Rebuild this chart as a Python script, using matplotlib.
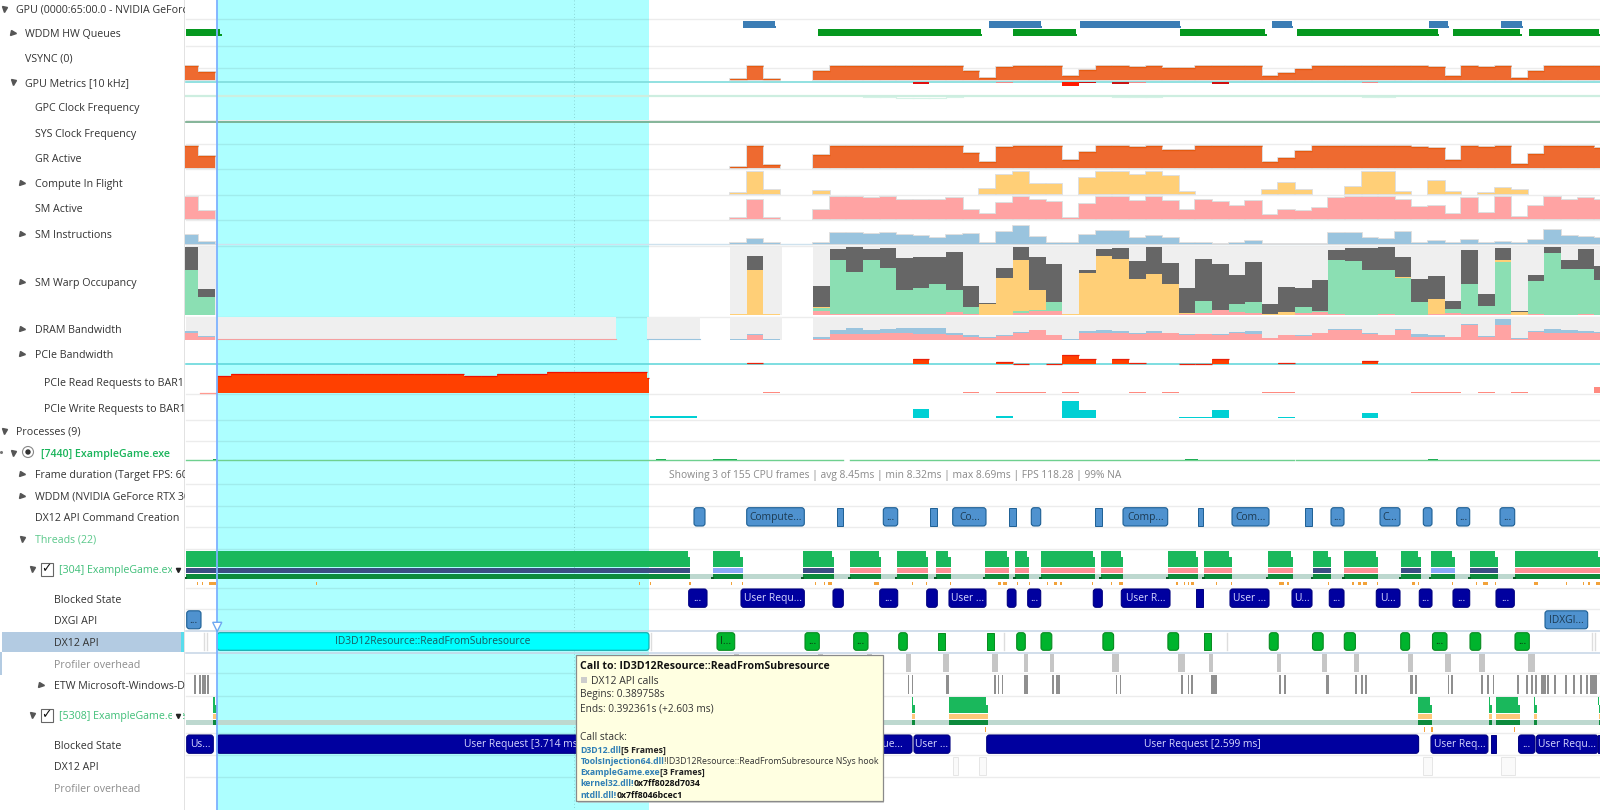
import numpy as np
import matplotlib
matplotlib.use('Agg')
from matplotlib import pyplot as plt
from matplotlib.patches import FancyBboxPatch, Rectangle, Circle, Polygon

plt.rcParams['font.family'] = ['Open Sans', 'DejaVu Sans']

# metric bins on the right of the selection, 53 samples, fraction of row height
gr_active = [.03,1,.12,0,0,.58,1,1,1,1,1,1,1,1,.69,.27,.95,1,1,1,.35,.72,1,1,.97,1,.8,.8,1,1,1,1,.27,.47,.77,1,1,1,1,1,1,.97,.9,.35,1,.97,1,.17,.65,1,1,1,.9]
gr_summary = [.05,1,.1,0,0,.6,1,1,1,1,1,1,1,1,.65,.15,.9,1,1,1,.25,.7,1,1,.9,1,.85,.85,1,1,1,1,.25,.45,.75,1,1,1,1,1,1,.95,.9,.25,1,.9,1,.15,.65,1,1,1,.95]
compute = [.03,1,.16,0,0,.12,0,0,0,0,0,0,0,0,0,.2,.83,1,.45,.45,0,.7,1,1,.85,1,.8,.1,0,0,0,0,.15,.5,.18,0,0,.3,1,1,.08,0,.6,.1,0,.05,.25,.15,0,0,0,0,0]
sm_active = [.03,.87,.03,0,0,.4,1,1,.97,1,.85,.85,.85,.95,.4,.2,.72,1,.85,.75,.03,.68,1,1,.8,1,.8,.4,.85,.75,.6,.8,.15,.4,.37,.5,.95,1,1,1,.85,.53,.58,.2,.95,.27,1,.07,.58,1,.85,.95,.85]
sm_instr = [.05,.25,.05,0,0,.05,.57,.57,.52,.55,.45,.4,.3,.45,.5,.02,.65,.95,.35,.05,.02,.45,.7,.66,.3,.41,.3,.02,.05,.01,.05,.14,.01,.01,.01,.01,.59,.59,.3,.25,.61,.05,.14,.02,.2,.02,.09,.02,.2,.71,.41,.36,.3]

# warp occupancy stack, bottom to top
warp_pink = [0,0,0,0,0,.05,.01,.01,.01,.01,.01,.01,.01,.04,.01,0,0,.03,.05,.05,0,0,0,0,0,0,0,.01,.02,.07,.04,.02,0,0,.02,.04,.01,0,0,.01,0,0,.01,.02,.01,.01,.01,0,.01,0,0,.01,0]
warp_green = [0,0,0,0,0,.05,.8,.63,.8,.68,.35,.39,.44,.33,.1,0,0,.03,.02,.14,0,0,0,0,0,0,0,0,.19,0,.12,.17,0,0,.1,.01,.8,.8,.66,.66,.55,.19,0,.06,.44,.12,.78,0,.49,.92,.68,.67,.51]
warp_yellow = [.01,.66,.01,0,0,.02,0,0,0,0,0,0,0,0,0,.16,.55,.75,.29,0,.01,.62,.87,.83,.53,.6,.46,.02,0,0,0,0,.01,.04,0,0,0,0,0,0,.01,0,.22,.01,0,0,.03,.04,0,0,0,0,0]
warp_gray = [0,.21,0,0,0,.31,.16,.36,.16,.3,.48,.46,.41,.56,.32,.02,.14,.19,.5,.56,0,.05,.11,.16,.27,.4,.31,.37,.62,.68,.43,.6,.15,.37,.27,.46,.15,.19,.33,.33,.3,.34,.34,.11,.51,.18,.17,.02,.09,.08,.14,.29,.22]

dram_pink = [0,.2,0,0,0,.03,.25,.25,.27,.3,.3,.25,.25,.2,.12,.08,.17,.3,.42,.2,0,.3,.32,.32,.25,.32,.28,.22,.25,.22,.3,.25,.07,.2,.17,.3,.45,.42,.25,.2,.45,.12,.1,.1,.65,.12,.65,.03,.35,.32,.32,.28,.28]
dram_blue = [.02,.05,.03,0,0,.07,.2,.25,.18,.18,.2,.25,.25,.12,.07,.05,.03,.03,.03,.03,.02,.08,.1,.05,.03,.05,.02,.02,.02,.02,.05,.12,0,.01,.02,.02,.04,.04,.03,.02,.02,.12,.12,.01,.03,.03,.27,.03,.05,.17,.1,.1,.08]

pcie_bw = [0,.06,0,0,0,0,0,0,0,0,0,.55,0,0,0,0,.25,.05,0,.05,1,.55,0,.55,.15,0,0,.05,.05,.5,0,0,0,.08,0,0,0,0,.3,0,0,0,0,0,0,0,0,0,0,0,0,0,0]
read_req = [0,0,.04,0,0,0,0,0,0,0,0,0,0,0,.04,0,.04,.04,.04,0,.04,0,0,0,.04,0,.04,0,0,0,0,0,.04,.04,0,0,0,0,0,0,0,.04,.04,.04,0,.04,0,.04,0,0,0,0,.3]
write_req = [0,0,0,0,0,0,.03,0,.03,0,.03,.55,0,0,0,0,.12,0,0,.03,1,.5,0,0,0,0,0,.1,.1,.5,.03,0,0,.08,0,0,0,0,.3,0,0,.03,0,0,0,0,.03,0,0,0,0,0,0]

# two samples left of the selection
head_gr = [1,.55]
head_summary = [1,.55]
head_sm_active = [1,.36]
head_instr = [.45,.1]
head_green = [.67,.26]
head_gray = [.33,.12]
head_dram_pink = [.28,.13]
head_dram_blue = [.12,.03]

# samples under the selection
read_band = [.83,.91,.91,.91,.91,.91,.91,.91,.91,.91,.91,.91,.91,.91,.91,.8,.8,.9,.9,.93,1,1,1,1,1,1,.7]
write_low = [.12,.12,.12]

# wddm queues
queue_blue_x0 = [743.3,989,1080.3,1271.7,1428.7,1500.7]
queue_blue_x1 = [776,1042.3,1181,1293.3,1449,1523.3]
queue_green_x0 = [186,818.3,1013.3,1180,1296.7,1453.3,1529.3]
queue_green_x1 = [221.7,982.3,1077.3,1266.7,1439.3,1521.7,1600]

# named ranges
cmd_x0 = [694,746.7,836.7,883.3,930,952.7,1009,1031.3,1095,1123,1198,1232,1305,1331,1380,1423.3,1456.7,1500]
cmd_x1 = [705,804.3,843.3,897.7,937.3,986,1016,1040.7,1102.3,1167.7,1203.3,1269,1312,1344,1400,1432,1469.7,1514.7]
cmd_text = ['','Compute...','','...','','Co...','','','','Comp...','','Com...','','...','C...','','...','...']

blocked_x0 = [688.7,741,833,879.7,926.7,949,1007.3,1027.7,1093.3,1121.3,1196.3,1230,1292,1329.3,1376.3,1419.3,1453,1496]
blocked_x1 = [707,804.3,843.3,897.7,937.3,986,1016,1040.7,1102.3,1170,1203.3,1269,1312,1344,1400,1432,1469.7,1514.3]
blocked_text = ['...','User Requ...','','...','','User ...','','...','','User R...','','User ...','U...','...','U...','...','...','...']

dxgi_x0 = [186.7,1545]
dxgi_x1 = [201,1587.7]
dxgi_text = ['...','IDXGI...']

dx12_x0 = [717,805,853.7,898.7,938,986.7,1016.7,1041,1102.9,1167.9,1204,1269.3,1312.5,1344.3,1400.7,1432.5,1470,1515]
dx12_x1 = [734.7,819.3,868,907.3,944.7,993.7,1025.3,1051.8,1113.6,1178.6,1210.7,1278.2,1323.2,1355.4,1409.6,1447,1480.7,1529.3]
dx12_text = ['I...','...','...','','','','','','','','','','','','','...','','...']
dx12_thin = [204,207,651,1004,1227,1592,1595]

overhead_x0 = [734,818,866.7,906,943.3,992.3,1024.3,1050,1112,1177.5,1209.3,1277.1,1322,1354,1407.9,1445.4,1479,1527.9]
overhead_x1 = [738.7,823,871.7,911,948.7,997.7,1027.7,1054.3,1119.3,1185,1212.9,1280.7,1327,1359,1413.2,1450.7,1484.6,1535.4]

etw_x0 = [194,199,202.3,206.7,908.3,912,945.7,994.3,998.3,1002,1024.3,1052,1056.4,1115.7,1120,1181.4,1187.5,1191,1211.4,1278.6,1283.6,1325.7,1355.4,1361.4,1365,1410,1415,1447.9,1451.4,1481,1487,1492.5,1517,1526,1531.4,1534.6,1541,1547,1554.3,1565,1573.2,1580.3,1585.7,1590]
etw_x1 = [196,201,206,209.3,909.3,913.3,948.7,995.7,999.3,1003.3,1027.7,1053.6,1059.6,1117,1121.4,1182.9,1189,1192.5,1217,1281.4,1286.4,1329.3,1357,1363,1366.8,1413.2,1417,1449.3,1452.9,1482.5,1488.6,1494,1518.6,1527.5,1533,1537,1545.7,1549,1556,1566.8,1575,1582,1587.5,1597]

# thread 304 activity, kind: 0 navy, 1 light blue, 2 pink
thread_x0 = [186,713,803,850,896.7,936,984.7,1015,1041,1101,1168.3,1204,1267.7,1312.7,1344.3,1400.7,1430.7,1470,1515]
thread_x1 = [690,742.7,834,881.3,928.3,950.7,1009,1029,1095,1123,1198,1231.7,1293.3,1330.7,1378,1420.7,1454.7,1497.7,1600]
thread_kind = [0,1,0,2,2,2,2,2,2,2,2,2,2,0,2,0,1,0,2]

tick_x0 = [196.7,201.7,209,316,638.7,650,689.3,730.7,741.7,815,824,827.7,874.3,912,925.7,950,998.3,1003.3,1017,1028.7,1047,1054.3,1060.3,1092,1111,1119.3,1176.3,1183.7,1188,1191,1215.7,1230.7,1279,1286.7,1328,1352.3,1357.7,1363.3,1376.7,1412,1417.7,1452,1476,1483.3,1494.7,1534.3,1565.7,1582.7,1588.3,1596]
tick_x1 = [198,203,216,317.3,640,651.3,690.6,732,743,816.3,825.3,832.3,879.3,913.3,927,951.3,1000.7,1006.7,1018.3,1030,1048.3,1057.3,1061.6,1093.3,1112.3,1122.7,1177.6,1185,1189.3,1194.3,1217,1232,1284,1289.3,1329.3,1353.6,1360.7,1366.7,1378,1415,1419,1453.3,1477.3,1488.3,1496,1538.3,1567,1584,1589.6,1600]

# thread 5308
t2_x0 = [213,912,949,1417.9,1489,1496,1534,1599]
t2_x1 = [217,915,988,1432,1492,1520.4,1537,1600]
t2_ticks = [985,1424,1431.4,1514]

blocked2_x0 = [186.7,217,830,914,986.7,1431,1491,1518.6,1536.4,1598.4]
blocked2_x1 = [213.3,828,912,950,1418.6,1487.9,1495.7,1535,1597.9,1600]
blocked2_text = ['Us...','User Request [3.714 ms]','User Reque...','User ...','User Request [2.599 ms]','User Req...','','...','User Requ...','']

faint_x0 = [953,979,1423,1500.7]
faint_x1 = [958,986,1432,1515]

row_lines = [19,46,67.7,144.3,169,195.3,220,245.7,316.7,394.3,420,441,484.3,506,527.3,549,587.7,609.3,673.3,695.7,733.3,755,776.7]

BIN = 16.62
X0 = 730.0
BAND_L = 216.7
BAND_R = 649.0

fig = plt.figure(figsize=(16,8.1),dpi=100)
ax = fig.add_axes([0,0,1,1])
ax.set_xlim(0,1600)
ax.set_ylim(810,0)
ax.axis('off')
fig.patch.set_facecolor('white')

def edges(n,i0=0,left=None,right=None):
    e = X0+BIN*(i0+np.arange(n+1))
    if left is not None:
        e[0] = max(e[0],left)
    if right is not None:
        e[-1] = min(e[-1],right)
    return e

def stepfill(vals,base,height,color,i0=0,left=None,right=None,z=3,under=None,top=None,halo=False):
    vals = np.asarray(vals,float)
    e = edges(len(vals),i0,left,right)
    low = np.full(len(vals),float(base)) if under is None else np.asarray(under,float)
    up = low-vals*height
    on = vals>0
    if halo:
        ax.bar(e[:-1][on],(up-low)[on],width=np.diff(e)[on],bottom=low[on],align='edge',color=color,ec='#dcdcdc',lw=1.3,zorder=z-.1)
    ax.bar(e[:-1][on],(up-low)[on],width=np.diff(e)[on],bottom=low[on],align='edge',color=color,lw=0,zorder=z)
    if top is not None:
        ax.hlines(up[on],e[:-1][on],e[1:][on],color=top,lw=.9,zorder=z+.1)
    return up

def metric(vals,head,base,height,color,top=None):
    stepfill(vals,base,height,color,top=top,halo=True)
    stepfill(head,base,height,color,i0=-33,top=top,halo=True)

def box(x0,x1,y0,y1,face,edge,text='',tc='k',fs=7.4,z=4):
    w = x1-x0
    if w < 8.5:
        ax.add_patch(Rectangle((x0,y0),w,y1-y0,fc=face,ec=edge,lw=.7,zorder=z))
    else:
        r = min(2.8,w/3)
        p = FancyBboxPatch((x0+r,y0+r),w-2*r,y1-y0-2*r,boxstyle='round,pad=%f,rounding_size=%f'%(r,r),fc=face,ec=edge,lw=.8,zorder=z,mutation_aspect=1)
        ax.add_patch(p)
    if text:
        ax.text((x0+x1)/2,(y0+y1)/2+.3,text,ha='center',va='center',color=tc,fontsize=fs,zorder=z+.1,clip_on=True)

def chamfer(x0,x1,y0,y1,color,z=3,cut=2.5,drop=None):
    drop = (y1-y0)*.3 if drop is None else drop
    xs = [x0,x1-cut,x1-cut,x1,x1,x0]
    ys = [y0,y0,y0+drop,y0+drop,y1,y1]
    ax.add_patch(Polygon(np.column_stack([xs,ys]),fc=color,ec='none',zorder=z))

# selection band and row separators
ax.axvspan(BAND_L,BAND_R,color='#adffff',lw=0,zorder=1)
ax.plot([574.3,574.3],[0,810],color='#7fc8c8',lw=.6,ls=(0,(1,3)),zorder=1.2)
for y in row_lines:
    ax.plot([186,1600],[y,y],color='k',alpha=.075,lw=1,zorder=1.5)

# wddm queues
for a,b in zip(queue_blue_x0,queue_blue_x1):
    chamfer(a,b,20.8,27.8,'#3b7db5',cut=1.5,drop=5)
for a,b in zip(queue_green_x0,queue_green_x1):
    chamfer(a,b,28.8,36.2,'#05981f',cut=1.5,drop=5)

# summary row of gpu metrics
metric(gr_summary,head_summary,80,14.5,'#ee6a30',top='#e65a10')
ax.plot([186,1600],[81.8,81.8],color='#7fdcdc',lw=1.2,zorder=2.5)
for i,h,c in zip([11,16,20,21,23,24,29,38],[1.2,.8,3.6,1,1.2,.8,1.2,.8],['#e01010','#f08a8a','#ff1a00','#d01010','#c81414','#f08a8a','#d01010','#f08a8a']):
    ax.fill_between(edges(1,i),82.3,82.3+h,color=c,lw=0,zorder=3)

# gpc and sys clock
ax.plot([186,1600],[96,96],color='#cdeee0',lw=1.6,zorder=2)
for i,dy in zip([8,9,10,11,12,13,23,24,25,38,39],[.7,.7,1.5,1.5,1.5,.7,.7,.7,.7,.7,.7]):
    e = edges(1,i)
    ax.plot(e,[96+dy,96+dy],color='#d5f2e6',lw=.8,zorder=2.1)
ax.fill_between([186,1600],119.5,121,color='#ececec',lw=0,zorder=1.6)
ax.plot([186,1600],[121.6,121.6],color='#6fa888',lw=1.2,zorder=2)

metric(gr_active,head_gr,167.7,21.7,'#ee6a30',top='#e65a10')
metric(compute,[0,0],193.7,22,'#ffcf77')
metric(sm_active,head_sm_active,218.7,21.7,'#ffa3a3')
metric(sm_instr,head_instr,243.7,18.7,'#9ac4de')
ax.plot([186,1600],[243.9,243.9],color='#cfe2ee',lw=1,zorder=2)

# warp occupancy
warp_base = 314.7
warp_h = 67.3
for a,b in [(186,BAND_L),(730,782),(813,1600)]:
    ax.fill_between([a,b],warp_base-warp_h,warp_base,color='#efefef',lw=0,zorder=2)
u = stepfill(warp_pink,warp_base,warp_h,'#ffa3a3')
u = stepfill(warp_green,0,warp_h,'#8bdfb3',under=u)
u = stepfill(warp_yellow,0,warp_h,'#ffcf77',under=u)
stepfill(warp_gray,0,warp_h,'#666666',under=u)
u2 = stepfill(head_green,warp_base,warp_h,'#8bdfb3',i0=-33)
stepfill(head_gray,0,warp_h,'#666666',i0=-33,under=u2)

# dram
dram_base = 339.7
dram_h = 22.4
for a,b in [(186,616.3),(647,700),(730,782),(813,1600)]:
    ax.fill_between([a,b],dram_base-dram_h,dram_base,color='#efefef',lw=0,zorder=2)
ax.plot([BAND_L,616.3],[339.4,339.4],color='#f4a0a0',lw=.8,zorder=2.2)
ax.plot([647,700],[339.4,339.4],color='#9ac4de',lw=.8,zorder=2.2)
u = stepfill(dram_pink,dram_base,dram_h,'#ffa3a3')
stepfill(dram_blue,0,dram_h,'#9ac4de',under=u)
u = stepfill(head_dram_pink,dram_base,dram_h,'#ffa3a3',i0=-33)
stepfill(head_dram_blue,0,dram_h,'#9ac4de',i0=-33,under=u)

# pcie
ax.plot([186,1600],[364.4,364.4],color='#5ad4d8',lw=1.1,zorder=2.5)
stepfill(pcie_bw,364,9.5,'#ff4000',top='#e8200a')
stepfill(read_band,392.8,20.5,'#ff4000',i0=-31,left=BAND_L+.6,right=BAND_R,top='#f01000')
stepfill(read_req,392.8,20.5,'#ff8a80')
ax.plot([200,216],[392.5,392.5],color='#ff9a90',lw=.9,zorder=3)
stepfill(write_req,418.3,17.3,'#00d0d4')
stepfill(write_low,418.3,17.3,'#00d0d4',i0=-5,left=649.5)

# process row
ax.plot([186,843],[460.2,460.2],color='#6fd08f',lw=1,zorder=2.5)
ax.plot([850,1294],[460.2,460.2],color='#6fd08f',lw=1,zorder=2.5)
ax.plot([1296,1600],[460.2,460.2],color='#6fd08f',lw=1,zorder=2.5)
for a,b in [(213,217),(656,666),(713,737),(1185,1198),(1428,1438)]:
    ax.fill_between([a,b],459,460.2,color='#1fae55',lw=0,zorder=2.6)
ax.text(669,475.5,'Showing 3 of 155 CPU frames | avg 8.45ms | min 8.32ms | max 8.69ms | FPS 118.28 | 99% NA',color='#8a8a8a',fontsize=7.35,va='center',zorder=3)

# dx12 command creation
for a,b,t in zip(cmd_x0,cmd_x1,cmd_text):
    box(a,b,507.7,526,'#4f92cf','#1d5f94',t,'#1c3a52')

# thread 304
colors304 = ['#3c4d84','#8aa8f8','#ff8f96']
ax.fill_between([186,1600],574,579.4,color='#bdd8cf',lw=0,zorder=2)
for a,b,k in zip(thread_x0,thread_x1,thread_kind):
    chamfer(a,b,550.7,566.7,'#1ab85c',drop=6)
    ax.fill_between([a,b],567.8,573.3,color=colors304[k],lw=0,zorder=3)
    ax.fill_between([a,b],574,579.4,color='#0d8a3c',lw=0,zorder=3)
    ax.fill_between([a-2,a+.5],577,579.4,color='#0a5c28',lw=0,zorder=3)
for a,b in zip(tick_x0,tick_x1):
    ax.add_patch(Rectangle((a,581.7),b-a,3.6,fc='#f2a23a',ec='none',zorder=3))

for a,b,t in zip(blocked_x0,blocked_x1,blocked_text):
    box(a,b,589,607.3,'#00009f','#000080',t,'#d8d8ff')
for a,b,t in zip(dxgi_x0,dxgi_x1,dxgi_text):
    box(a,b,610.8,628.8,'#4f92cf','#1d5f94',t,'#1c3a52')

# dx12 api row, selected one stands out
ax.plot([186,1600],[631,631],color='#c5d5e5',lw=1.1,zorder=2.5)
ax.plot([186,1600],[652.6,652.6],color='#c5d5e5',lw=1.1,zorder=2.5)
box(BAND_L+.5,BAND_R,632.7,650.3,'#00ffff','#10a8a8','ID3D12Resource::ReadFromSubresource','#1a5a60')
for a,b,t in zip(dx12_x0,dx12_x1,dx12_text):
    box(a,b,632.7,650.3,'#00b42d','#078a20',t,'#0a3a12')
for x in dx12_thin:
    ax.plot([x,x],[633,650],color='#dddddd',lw=1,zorder=3)

for a,b in zip(overhead_x0,overhead_x1):
    ax.fill_between([a,b],653.7,672.3,color='#c6c6c6',lw=0,zorder=3)
for a,b in zip(etw_x0,etw_x1):
    ax.fill_between([a,b],675,694,color='#8f8f8f',lw=0,zorder=3)

# thread 5308
ax.fill_between([186,1600],720,725.4,color='#bdd8cf',lw=0,zorder=2)
for a,b in zip(t2_x0,t2_x1):
    chamfer(a,b,697,712.7,'#1ab85c',drop=8)
    ax.fill_between([a,b],713.8,719.4,color='#ffc87a',lw=0,zorder=3)
    ax.fill_between([a,b],720,725.4,color='#0d8a3c',lw=0,zorder=3)
for x in t2_ticks:
    ax.fill_between([x,x+1.4],726.7,732,color='#f2a23a',lw=0,zorder=3)
for a,b,t in zip(blocked2_x0,blocked2_x1,blocked2_text):
    box(a,b,735,753.3,'#00009f','#000080',t,'#d8d8ff')
for a,b in zip(faint_x0,faint_x1):
    ax.add_patch(Rectangle((a,757),b-a,18,fc='#fafafa',ec='#e6e6e6',lw=.7,zorder=3))

# cursor line and marker
ax.plot([BAND_L,BAND_L],[0,810],color='#7db1ff',lw=1.3,zorder=5)
ax.add_patch(Polygon([[212.7,622.3],[221.8,622.3],[217.2,631.5]],fc='white',ec='#6fa8f0',lw=1,zorder=5.1))

# tooltip
ax.add_patch(Rectangle((578,657),306,146,fc='#b8b8b8',ec='none',zorder=6,alpha=.6))
ax.add_patch(Rectangle((576.3,655.3),306.4,146,fc='#ffffe1',ec='#8a8a8a',lw=.9,zorder=6.1))
TIP_X = 580.5
def chain(y,parts,x=TIP_X,fs=7.3):
    r = fig.canvas.get_renderer()
    for s,c,w in parts:
        t = ax.text(x,y+1.2,s,color=c,fontweight=w,fontsize=fs,va='center',zorder=7)
        x = t.get_window_extent(r).x1
chain(665.7,[('Call to: ID3D12Resource::ReadFromSubresource','#111111','bold')],fs=7.6)
ax.add_patch(Rectangle((581,677),6,6,fc='#cccccc',ec='none',zorder=7))
chain(680,[('DX12 API calls','#333333','normal')],x=591,fs=7.5)
chain(693.7,[('Begins: 0.389758s','#333333','normal')])
chain(707.7,[('Ends: 0.392361s (+2.603 ms)','#333333','normal')])
chain(736,[('Call stack:','#333333','normal')])
chain(749,[('D3D12.dll','#2f7fb5','bold'),('[5 Frames]','#222222','bold')],fs=6.35)
chain(760,[('ToolsInjection64.dll','#2f7fb5','bold'),('!ID3D12Resource::ReadFromSubresource NSys hook','#333333','normal')],fs=6.35)
chain(771.3,[('ExampleGame.exe','#2f7fb5','bold'),('[3 Frames]','#222222','bold')],fs=6.35)
chain(782.7,[('kernel32.dll!','#2f7fb5','bold'),('0x7ff8028d7034','#111111','bold')],fs=6.35)
chain(794,[('ntdll.dll!','#2f7fb5','bold'),('0x7ff8046bcec1','#111111','bold')],fs=6.35)

# left panel with the row names
side = fig.add_axes([0,0,185/1600,1],zorder=10)
side.set_xlim(0,185)
side.set_ylim(810,0)
side.axis('off')
side.add_patch(Rectangle((0,0),185,810,fc='white',ec='none',zorder=0))
side.add_patch(Rectangle((2,631.7),179,20.7,fc='#b3cbe2',ec='none',zorder=.5))
side.add_patch(Rectangle((181,631.7),4,20.7,fc='#58dcec',ec='none',zorder=.6))
side.add_patch(Rectangle((0,652.3),2,22.7,fc='#b3cbe2',ec='none',zorder=.6))
side.add_patch(Rectangle((183.5,0),1.5,810,fc='#e2e2e2',ec='none',zorder=.7))

labels = ['GPU (0000:65:00.0 - NVIDIA GeForce RTX 3090)','WDDM HW Queues','VSYNC (0)','GPU Metrics [10 kHz]','GPC Clock Frequency','SYS Clock Frequency','GR Active','Compute In Flight','SM Active','SM Instructions','SM Warp Occupancy','DRAM Bandwidth','PCIe Bandwidth','PCIe Read Requests to BAR1','PCIe Write Requests to BAR1','Processes (9)','[7440] ExampleGame.exe','Frame duration (Target FPS: 60)','WDDM (NVIDIA GeForce RTX 3090)','DX12 API Command Creation','Threads (22)','[304] ExampleGame.exe','Blocked State','DXGI API','DX12 API','Profiler overhead','ETW Microsoft-Windows-DXGI','[5308] ExampleGame.exe','Blocked State','DX12 API','Profiler overhead']
label_x = [16,25,25,25,35,35,35,35,35,35,35,35,35,44,44,16,41,35,35,35,35,59,54,54,54,54,54,59,54,54,54]
label_y = [9,33,58,82,107,133,158,183,208,234,282,329,354,382,408,431,453,474,496,517,539,569,599,620,642,664,685,715,745,766,788]
label_col = ['#333333']*31
label_col[16] = '#19b45a'
label_col[20] = '#5ac88a'
label_col[21] = '#3fbf78'
label_col[27] = '#3fbf78'
label_col[25] = '#8c8c8c'
label_col[30] = '#8c8c8c'
right_x = [13,22,22,22,22,22,22,22,41]
right_y = [33,183,234,282,329,354,474,496,685]
down_x = [4,13,4,13,22,32,32]
down_y = [9,82,431,453,539,569,715]

for s,x,y,c in zip(labels,label_x,label_y,label_col):
    w = 'semibold' if s.startswith('[7440]') else 'normal'
    side.text(x,y+1.3,s,color=c,fontsize=7.7,va='center',clip_on=True,zorder=2,fontweight=w)
side.plot(right_x,right_y,ls='none',marker='>',ms=3.6,color='#555555',zorder=2)
side.plot(down_x,down_y,ls='none',marker='v',ms=3.6,color='#555555',zorder=2)
for y in [570,716]:
    side.add_patch(Rectangle((171.5,y-8),11.5,16,fc='white',ec='none',zorder=2.5))
side.plot([178,178],[570,716],ls='none',marker='v',ms=3,color='#222222',zorder=3)
side.add_patch(Circle((28,452),5.5,fc='white',ec='#888888',lw=.8,zorder=2))
side.add_patch(Circle((28,452),2.7,fc='#333333',ec='none',zorder=2.1))
side.plot([0.5],[452],marker='o',ms=1.2,color='#777777',zorder=2)
for y in [569,715]:
    side.add_patch(Rectangle((40.5,y-6),12.5,12.5,fc='white',ec='#666666',lw=.8,zorder=2))
    side.text(46.7,y,'\u2713',fontsize=9,fontweight='bold',ha='center',va='center',color='#111111',zorder=2.1,family='DejaVu Sans')

fig.savefig('out.png',dpi=100)
